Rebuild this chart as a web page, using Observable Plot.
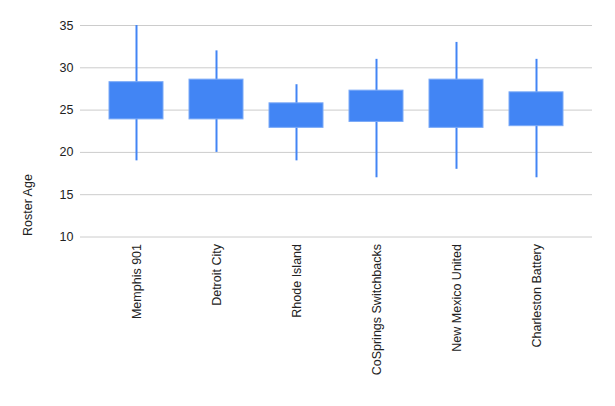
<!DOCTYPE html>
<html>
<head>
<meta charset="utf-8">
<script src="https://cdn.jsdelivr.net/npm/d3@7"></script>
<script src="https://cdn.jsdelivr.net/npm/@observablehq/plot@0.6"></script>
<style>
  html, body { margin: 0; padding: 0; background: #fff; }
  #chart svg { display: block; }
</style>
</head>
<body>
<div id="chart"></div>
<script>
const teams = ["Memphis 901", "Detroit City", "Rhode Island", "CoSprings Switchbacks", "New Mexico United", "Charleston Battery"];
const low   = [19, 20, 19, 17, 18, 17];
const open  = [23.9, 23.9, 22.9, 23.6, 22.9, 23.1];
const close = [28.3, 28.6, 25.8, 27.3, 28.6, 27.1];
const high  = [35, 32, 28, 31, 33, 31];
const yTicks = [10, 15, 20, 25, 30, 35];
const yLabel = "Roster Age";

const data = teams.map((t, i) => ({team: t, low: low[i], open: open[i], close: close[i], high: high[i]}));
const blue = "#4285F4";

const chart = Plot.plot({
  width: 615,
  height: 406,
  marginTop: 25,
  marginBottom: 169.5,
  marginLeft: 80,
  marginRight: 23,
  style: {fontFamily: "'Liberation Sans', Arial, sans-serif", fontSize: "12.5px", color: "#222"},
  x: {domain: teams, paddingInner: 0.329, paddingOuter: 0.345, label: null},
  y: {domain: [10, 35], ticks: yTicks, label: null},
  marks: [
    Plot.gridY(yTicks, {stroke: "#cccccc", strokeOpacity: 1, strokeWidth: 1}),
    Plot.axisY({ticks: yTicks, tickSize: 0, tickPadding: 7, label: null, fill: "#222", fontSize: 12.5}),
    Plot.axisX({tickSize: 0, tickRotate: -90, tickPadding: 7, fill: "#222", fontSize: 12.5}),
    Plot.text([yLabel], {frameAnchor: "bottom-left", rotate: -90, textAnchor: "start", lineAnchor: "middle", dx: -53, dy: -1, fill: "#222", fontSize: 12.5}),
    Plot.ruleX(data, {x: "team", y1: "low", y2: "high", stroke: blue, strokeWidth: 2}),
    Plot.barY(data, {x: "team", y1: "open", y2: "close", fill: blue, stroke: "#7baaf7", strokeWidth: 1})
  ]
});
document.getElementById("chart").appendChild(chart);
</script>
</body>
</html>
